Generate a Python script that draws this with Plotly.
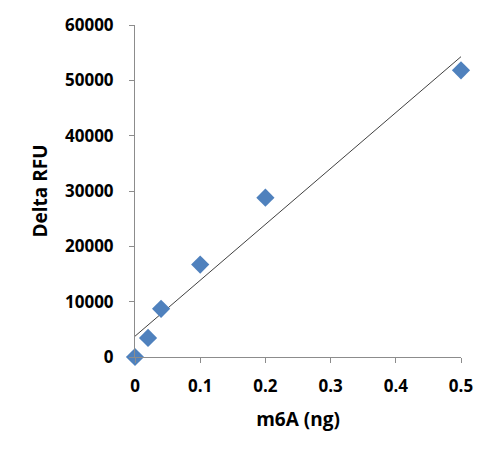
import numpy as np
import plotly.graph_objects as go

# m6A standard curve
m6a_ng = [0, 0.02, 0.04, 0.1, 0.2, 0.5]
delta_rfu = [0, 3450, 8700, 16700, 28800, 51800]

x_ticks = [0, 0.1, 0.2, 0.3, 0.4, 0.5]
x_labels = ['0', '0.1', '0.2', '0.3', '0.4', '0.5']
y_ticks = [0, 10000, 20000, 30000, 40000, 50000, 60000]
y_labels = ['0', '10000', '20000', '30000', '40000', '50000', '60000']

# linear trendline like excel
slope, icpt = np.polyfit(m6a_ng, delta_rfu, 1)
fit_x = [0, 0.5]
fit_y = [icpt + slope * v for v in fit_x]

font_fam = 'Open Sans'

fig = go.Figure()
fig.add_trace(go.Scatter(x=fit_x, y=fit_y, mode='lines',
                         line=dict(color='#404040', width=1),
                         hoverinfo='skip', cliponaxis=False))
fig.add_trace(go.Scatter(x=m6a_ng, y=delta_rfu, mode='markers',
                         marker=dict(symbol='diamond', size=14, color='#4F81BD'),
                         cliponaxis=False))

# page body has 8px margin, so margins shifted to compensate
fig.update_layout(
    width=500, height=457,
    margin=dict(l=127, r=47, t=17, b=108),
    plot_bgcolor='white', paper_bgcolor='white',
    showlegend=False,
    font=dict(family=font_fam, size=17, color='black'),
)
fig.update_xaxes(
    range=[0, 0.5], tickvals=x_ticks, ticktext=x_labels,
    showgrid=False, zeroline=False, automargin=False,
    showline=True, linecolor='#8c8c8c', linewidth=1,
    ticks='outside', ticklen=5, tickcolor='#8c8c8c',
    tickfont=dict(family=font_fam, size=17, color='black', weight='bold'),
    ticklabelstandoff=9,
    title=dict(text='<b>m6A (ng)</b>', font=dict(family=font_fam, size=19), standoff=16),
)
fig.update_yaxes(
    range=[0, 60000], tickvals=y_ticks, ticktext=y_labels,
    showgrid=False, zeroline=False, automargin=False,
    showline=True, linecolor='#8c8c8c', linewidth=1,
    ticks='outside', ticklen=5, tickcolor='#8c8c8c',
    tickfont=dict(family=font_fam, size=17, color='black', weight='bold'),
    ticklabelstandoff=12,
    title=dict(text='<b>Delta RFU</b>', font=dict(family=font_fam, size=19), standoff=12),
)

fig.write_html("out.html")
